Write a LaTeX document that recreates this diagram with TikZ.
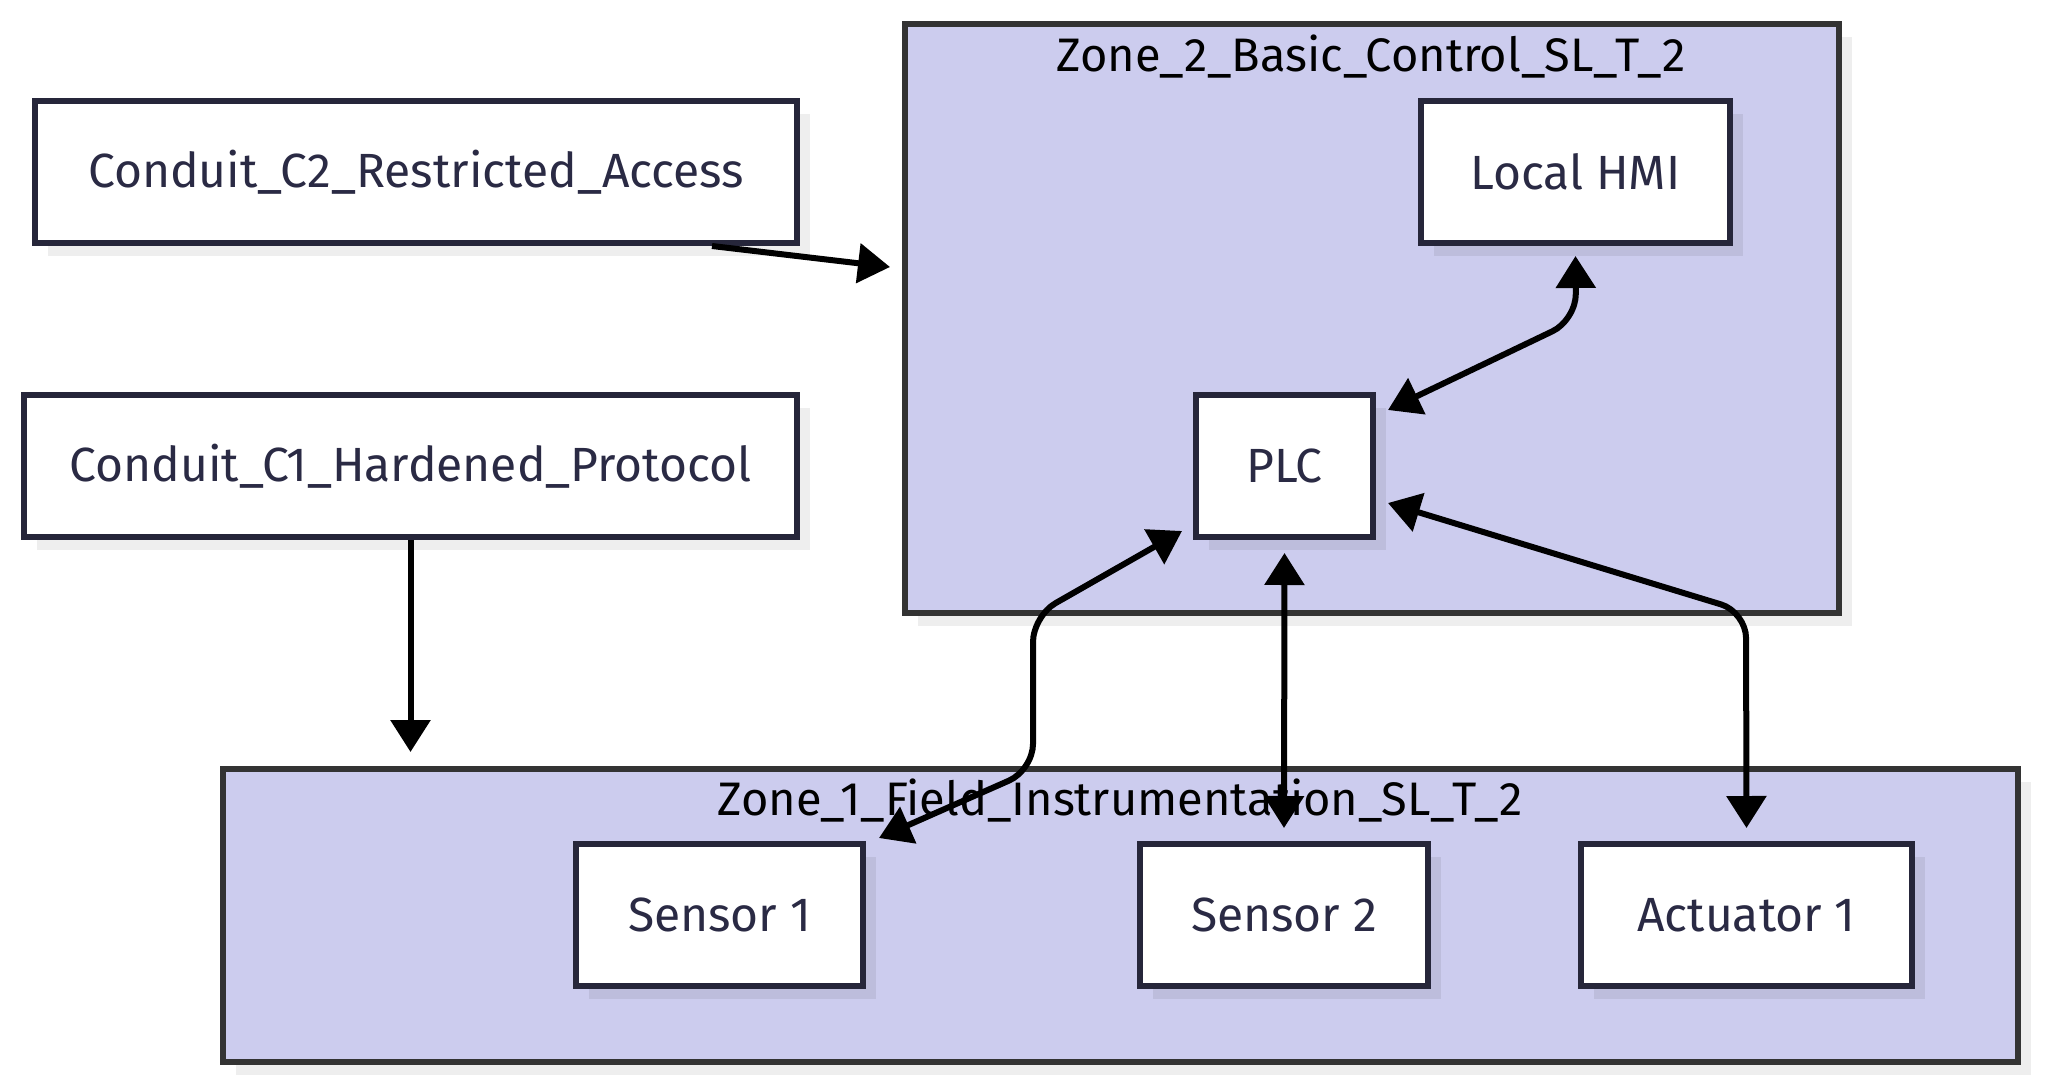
\documentclass[tikz,border=0pt]{standalone}
\usepackage{fontspec}
\setmainfont{Fira Sans}
\usetikzlibrary{arrows.meta,shadows,calc}
\definecolor{zonefill}{HTML}{CCCCEE}
\definecolor{zoneline}{HTML}{333333}
\definecolor{nodeline}{HTML}{26263A}
\definecolor{nodetext}{HTML}{2A2A44}
\definecolor{shadowout}{HTML}{EEEEEE}
\definecolor{shadowin}{HTML}{BDBDDC}
\begin{document}
\begin{tikzpicture}[x=1pt,y=-1pt,
  zonebox/.style={draw=zoneline, line width=6pt, fill=zonefill, inner sep=0pt,
    drop shadow={shadow xshift=13pt, shadow yshift=-13pt, fill=shadowout, opacity=1}},
  outbox/.style={draw=nodeline, line width=6pt, fill=white, inner sep=0pt, text=nodetext,
    font=\fontsize{48}{54}\selectfont,
    drop shadow={shadow xshift=13pt, shadow yshift=-13pt, fill=shadowout, opacity=1}},
  inbox/.style={outbox,
    drop shadow={shadow xshift=13pt, shadow yshift=-13pt, fill=shadowin, opacity=1}},
  ztitle/.style={font=\fontsize{47}{53}\selectfont, text=black, inner sep=0pt},
  conn/.style={line width=6pt, black, -{Triangle[length=32pt,width=39pt]}},
  biconn/.style={line width=6pt, black, rounded corners=26pt,
    {Triangle[length=32pt,width=39pt]}-{Triangle[length=32pt,width=39pt]}}
]
\useasboundingbox (0,0) rectangle (2048,1090);
% zones
\node[zonebox, minimum width=934pt, minimum height=589pt] (zone2) at (1372,318.5) {};
\node[ztitle] (z2title) at (1371,57) {Zone\_2\_Basic\_Control\_SL\_T\_2};
\node[zonebox, minimum width=1795pt, minimum height=293pt] (zone1) at (1120.5,915.5) {};
\node[ztitle] (z1title) at (1120,800) {Zone\_1\_Field\_Instrumentation\_SL\_T\_2};
% nodes
\node[outbox, minimum width=762pt, minimum height=142pt] (c2) at (416,172) {Conduit\_C2\_Restricted\_Access};
\node[outbox, minimum width=773pt, minimum height=142pt] (c1) at (410.5,466) {Conduit\_C1\_Hardened\_Protocol};
\node[inbox, minimum width=309pt, minimum height=142pt] (hmi) at (1575.5,172) {Local HMI};
\node[inbox, minimum width=177pt, minimum height=142pt] (plc) at (1284.5,466) {PLC};
\node[inbox, minimum width=287pt, minimum height=142pt] (s1) at (719.5,915) {Sensor 1};
\node[inbox, minimum width=288pt, minimum height=142pt] (s2) at (1284,915) {Sensor 2};
\node[inbox, minimum width=331pt, minimum height=142pt] (act) at (1746.5,915) {Actuator 1};
% bend points
\coordinate (k1) at (1576,320);
\coordinate (k2) at (1033,616);
\coordinate (k3) at (1033,770);
\coordinate (k4) at (1746,612);
% connectors
\draw[conn] ([shift={(-88,0)}]c2.south east) -- ([shift={(-12,246)}]zone2.north west);
\draw[conn] (c1.south) -- ([shift={(0,-14)}]zone1.north -| c1.south);
\draw[biconn] ([shift={(0,10)}]hmi.south) -- (k1) -- ([shift={(12,18)}]plc.north east);
\draw[biconn] ([shift={(-11,-9)}]plc.south west) -- (k2) -- (k3) -- ([shift={(13,-3)}]s1.north east);
\draw[biconn] ([shift={(0,13)}]plc.south) -- ([shift={(0,-13)}]s2.north);
\draw[biconn] ([shift={(12,37)}]plc.east) -- (k4) -- ([shift={(0,-13)}]act.north);
\end{tikzpicture}
\end{document}
